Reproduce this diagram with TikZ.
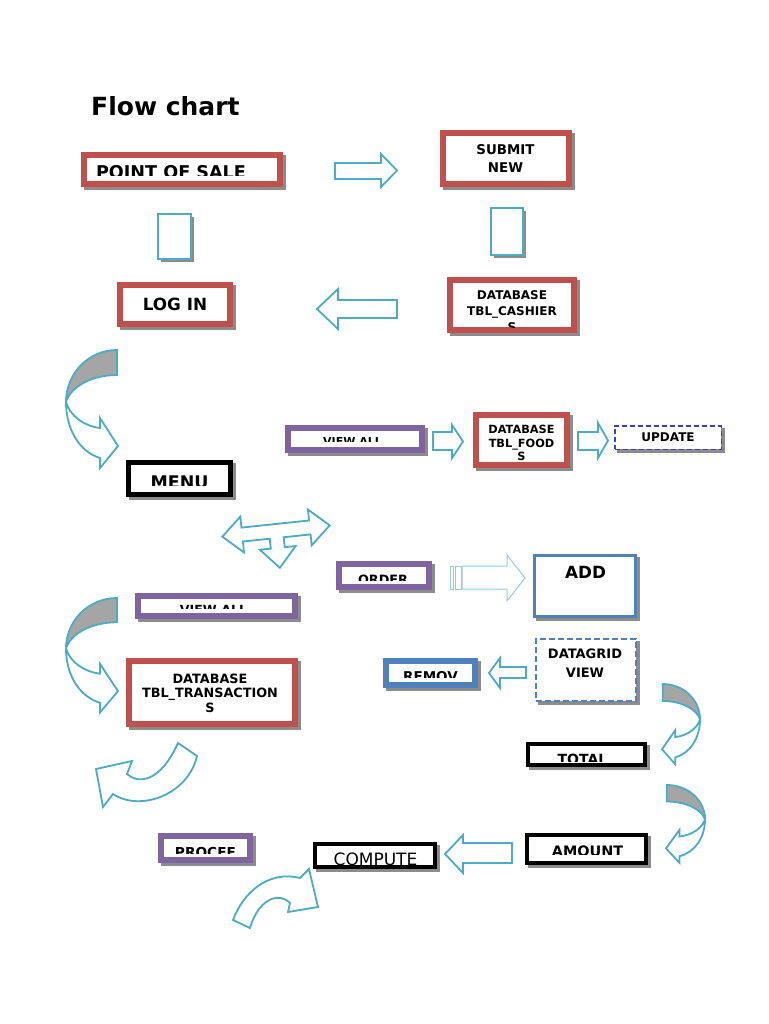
\documentclass[tikz,border=0pt]{standalone}
\usepackage{fontspec}
\setmainfont{DejaVu Sans}
\definecolor{cred}{HTML}{C0504D}
\definecolor{cpur}{HTML}{8064A2}
\definecolor{cblu}{HTML}{4F81BD}
\definecolor{ccya}{HTML}{4BACC6}
\definecolor{clcy}{HTML}{93CDDD}
\definecolor{cshd}{HTML}{8C8C8C}
\definecolor{cgry}{HTML}{A5A5A5}
\definecolor{cdash}{HTML}{3B3BD9}
\newcommand\fcbox[7]{%
  \fill[cshd] ({#2+3},{#3+3}) rectangle ({#4+3},{#5+3});
  \node[#7, line width=#6pt, fill=white, inner sep=0pt, outer sep=0pt,
        minimum width={#4-#2-#6}, minimum height={#5-#3-#6}] (#1) at ({(#2+#4)/2},{(#3+#5)/2}) {};}
\newcommand\lbl[5]{\node[lbl, font=\fontsize{#4}{#4}\selectfont\bfseries] (#1) at (#2,#3) {#5};}
\newcommand\clbl[8]{\begin{scope}\clip (#6,{#3-40}) rectangle (#7,#8);
  \node[lbl, font=\fontsize{#4}{#4}\selectfont\bfseries] (#1) at (#2,#3) {#5};\end{scope}}
\newcommand\barrow[7]{\draw[ca] (#1,#4) -- (#2,#4) -- (#2,#6) -- (#3,{(#6+#7)/2}) -- (#2,#7) -- (#2,#5) -- (#1,#5) -- cycle;}
\newcommand\curvR{%
  \draw[ca, fill=cgry] (51,0) .. controls (22,0) and (0,24) .. (0,52) .. controls (4,38) and (24,25) .. (51,25) -- cycle;
  \draw[ca] (0,52) .. controls (0,80) and (14,102) .. (34,108) -- (34,118) -- (52,96) -- (34,68) -- (34,78) .. controls (18,76) and (4,66) .. (0,52) -- cycle;}
\begin{document}
\begin{tikzpicture}[x=1pt,y=-1pt,
  lbl/.style={anchor=base, inner sep=0pt, outer sep=0pt},
  ca/.style={draw=ccya, line width=1.8pt, fill=white, line join=miter},
  cl/.style={draw=clcy, line width=1pt, fill=white}]
\useasboundingbox (0,0) rectangle (768,1024);
\fill[white] (0,0) rectangle (768,1024);

% title
\node[anchor=base west, inner sep=0pt, font=\fontsize{25}{25}\selectfont\bfseries] (title) at (91,116) {Flow chart};

% boxes
\fcbox{pos}{81}{152}{283}{187}{6}{draw=cred}
\fcbox{submit}{440}{130}{572}{187}{6}{draw=cred}
\fcbox{login}{117}{282}{233}{327}{6}{draw=cred}
\fcbox{cashiers}{447}{277}{577}{333}{6}{draw=cred}
\fcbox{menu}{126}{460}{233}{497}{5}{draw=black}
\fcbox{viewa}{285}{425}{425}{453}{6}{draw=cpur}
\fcbox{foods}{473}{412}{570}{468}{6}{draw=cred}
\fcbox{update}{614}{425}{722}{450}{1.5}{draw=cdash, dash pattern=on 5pt off 3pt}
\fcbox{order}{336}{561}{432}{590}{6}{draw=cpur}
\fcbox{add}{533}{554}{637}{618}{3}{draw=cblu}
\fcbox{viewb}{135}{593}{298}{619}{6}{draw=cpur}
\fcbox{trans}{126}{658}{298}{727}{6}{draw=cred}
\fcbox{remov}{383}{658}{478}{688}{6}{draw=cblu}
\fcbox{datagrid}{535}{638}{637}{702}{2}{draw=cblu, dash pattern=on 6pt off 3pt}
\fcbox{total}{526}{742}{647}{767}{4}{draw=black}
\fcbox{amount}{525}{833}{648}{865}{4}{draw=black}
\fcbox{procee}{158}{833}{253}{863}{6}{draw=cpur}
\fcbox{compute}{313}{842}{437}{869}{4}{draw=black}

% labels
\clbl{tpos}{171}{178.5}{17.6}{POINT OF SALE}{86}{278}{176}
\lbl{tsub1}{505.5}{155}{13.4}{SUBMIT}
\lbl{tsub2}{505.5}{173}{13.4}{NEW}
\lbl{tlog}{175}{310}{16.8}{LOG IN}
\lbl{tcas1}{512}{299}{12}{DATABASE}
\lbl{tcas2}{512}{315}{12}{TBL\_CASHIER}
\clbl{tcas3}{512}{331}{12}{S}{452}{572}{327.5}
\clbl{tmenu}{179.5}{488}{17.4}{MENU}{131}{228}{485}
\clbl{tvwa}{352.5}{445}{11}{VIEW ALL}{290}{420}{441}
\lbl{tfd1}{521.5}{433}{11.3}{DATABASE}
\lbl{tfd2}{521.5}{447.5}{11.3}{TBL\_FOOD}
\lbl{tfd3}{521.5}{460}{11.3}{S}
\lbl{tupd}{668}{441.5}{12}{UPDATE}
\clbl{tord}{383}{584.3}{12.8}{ORDER}{341}{427}{580}
\lbl{tadd}{585.5}{578}{16.8}{ADD}
\clbl{tvwb}{213.5}{614.2}{12.6}{VIEW ALL}{140}{293}{608.5}
\lbl{ttr1}{210}{683}{12.8}{DATABASE}
\lbl{ttr2}{210}{697.5}{12.8}{TBL\_TRANSACTION}
\lbl{ttr3}{210}{712}{12.8}{S}
\clbl{trem}{430.5}{681.9}{13.5}{REMOV}{388}{473}{677}
\lbl{tdg1}{585}{658}{13}{DATAGRID}
\lbl{tdg2}{585}{677}{13}{VIEW}
\clbl{ttot}{582.5}{764}{14}{TOTAL}{530}{643}{761.5}
\clbl{tamt}{587.5}{856}{14.4}{AMOUNT}{529}{644}{854.5}
\clbl{tpro}{205.5}{857}{13.7}{PROCEE}{163}{248}{853}
\node[lbl, font=\fontsize{17}{17}\selectfont] (tcomp) at (375.5,865) {COMPUTE};

% small cyan rectangles
\fill[cshd] (161,217) rectangle (194,262);
\draw[ca] (158,214) rectangle (191,259);
\fill[cshd] (494,211) rectangle (526,258);
\draw[ca] (491,208) rectangle (523,255);

% block arrows
\barrow{335}{381}{397}{163}{179}{154}{187}
\barrow{397}{338}{317}{300}{318}{289}{329}
\barrow{433}{452}{463}{432}{450}{425}{458}
\barrow{578}{598}{608}{432}{450}{423}{458}
\barrow{526}{500}{489}{667}{678}{658}{688}
\barrow{512}{463}{445}{843}{863}{835}{873}

% striped arrow
\draw[cl] (450,566) rectangle (453,589);
\draw[cl] (455,566) rectangle (461,589);
\draw[cl] (462,566) -- (507,566) -- (507,555) -- (525,578) -- (507,601) -- (507,589) -- (462,589) -- cycle;

% three-way arrow
\begin{scope}[shift={(276,531)}, rotate=6]
\draw[ca] (-54,0) -- (-34,-18) -- (-34,-7) -- (34,-7) -- (34,-18) -- (54,0) -- (34,18) -- (34,7)
  -- (7,7) -- (7,17) -- (18,17) -- (0,37) -- (-18,17) -- (-7,17) -- (-7,7) -- (-34,7) -- (-34,18) -- cycle;
\end{scope}

% curved arrows
\begin{scope}[shift={(66,350)}]\curvR\end{scope}
\begin{scope}[shift={(66,598)}, yscale=0.97]\curvR\end{scope}
\begin{scope}[shift={(700,684)}, xscale=-0.73, yscale=0.68]\curvR\end{scope}
\begin{scope}[shift={(705,785)}, xscale=-0.75, yscale=0.66]\curvR\end{scope}

% U-turn arrow
\draw[ca] (178,743) -- (197,756) .. controls (188,795) and (140,812) .. (113,794) -- (103,807) -- (96,769)
  -- (132,761) -- (127,774) .. controls (138,784) and (160,783) .. (178,743) -- cycle;

% bottom curved arrow
\draw[ca] (233,920) .. controls (243,893) and (268,870) .. (300,878) -- (309,869) -- (318,907) -- (288,912)
  -- (290,903) .. controls (278,891) and (258,900) .. (250,928) -- cycle;
\end{tikzpicture}
\end{document}
